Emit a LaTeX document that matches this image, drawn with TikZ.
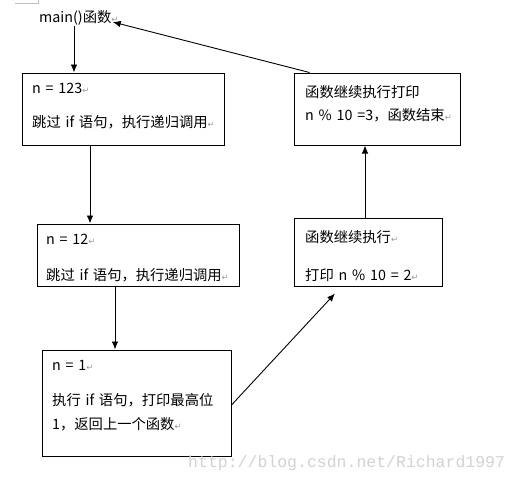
\documentclass[tikz,border=0pt]{standalone}
\usepackage{fontspec}
\usetikzlibrary{arrows.meta}
\setmainfont{Noto Sans CJK SC}[WordSpace=1.5]
\newfontfamily\symfont{DejaVu Sans}
\newfontfamily\wmfont{Liberation Mono}
\newcommand{\retmark}{{\symfont\fontsize{8.5}{8.5}\selectfont\color{gray!80}↵}}
\begin{document}
\begin{tikzpicture}[x=1pt,y=-1pt,
  box/.style={draw,line width=1pt,inner sep=0pt},
  txt/.style={anchor=west,inner sep=0pt,font=\fontsize{14.3}{16}\selectfont},
  arr/.style={-{Latex[length=8pt,width=6.5pt]},line width=0.9pt}]
  \useasboundingbox (0,0) rectangle (519,483);
  \draw[gray!50] (15,3) -- (38,3) -- (38,0);
%%%
  \node[txt] (main) at (39,18) {main()函数\retmark};
%%%
  \node[box,minimum width=202pt,minimum height=72pt] (b1) at (123,109) {};
  \node[txt] (b1a) at (32,88) {n = 123\retmark};
  \node[txt] (b1b) at (32,122) {跳过 if 语句，执行递归调用\retmark};
%%%
  \node[box,minimum width=202pt,minimum height=62pt] (b2) at (138,255) {};
  \node[txt] (b2a) at (46,239) {n = 12\retmark};
  \node[txt] (b2b) at (46,275) {跳过 if 语句，执行递归调用\retmark};
%%%
  \node[box,minimum width=189pt,minimum height=106pt] (b3) at (136.5,403) {};
  \node[txt] (b3a) at (52,365) {n = 1\retmark};
  \node[txt] (b3b) at (52,400) {执行 if 语句，打印最高位};
  \node[txt] (b3c) at (52,424) {1，返回上一个函数\retmark};
%%%
  \node[box,minimum width=166pt,minimum height=72pt] (b4) at (377,109) {};
  \node[txt] (b4a) at (305,92) {函数继续执行打印};
  \node[txt] (b4b) at (305,115) {n \% 10 =3，函数结束\retmark};
%%%
  \node[box,minimum width=148pt,minimum height=68pt] (b5) at (368,252) {};
  \node[txt] (b5a) at (305,237) {函数继续执行\retmark};
  \node[txt] (b5b) at (305,275) {打印 n \% 10 = 2\retmark};
%%%
  \draw[arr] (main.south -| 74,0) -- (b1.north -| 74,0);
  \draw[arr] (b1.south -| 90,0) -- (b2.north -| 90,0);
  \draw[arr] (b2.south -| 115,0) -- (b3.north -| 115,0);
  \draw[arr] ([yshift=-2pt]b3.east) -- ([shift={(-33,7)}]b5.south);
  \draw[arr] (b5.north -| 365,0) -- (b4.south -| 365,0);
  \draw[arr] ([xshift=16pt]b4.north west) -- ([shift={(-6,4)}]main.east);
%%%
  \node[anchor=west,inner sep=0pt,text=gray!35,font=\wmfont\fontsize{16.5}{18}\selectfont] (wm) at (188,463) {http://blog.csdn.net/Richard1997};
\end{tikzpicture}
\end{document}
